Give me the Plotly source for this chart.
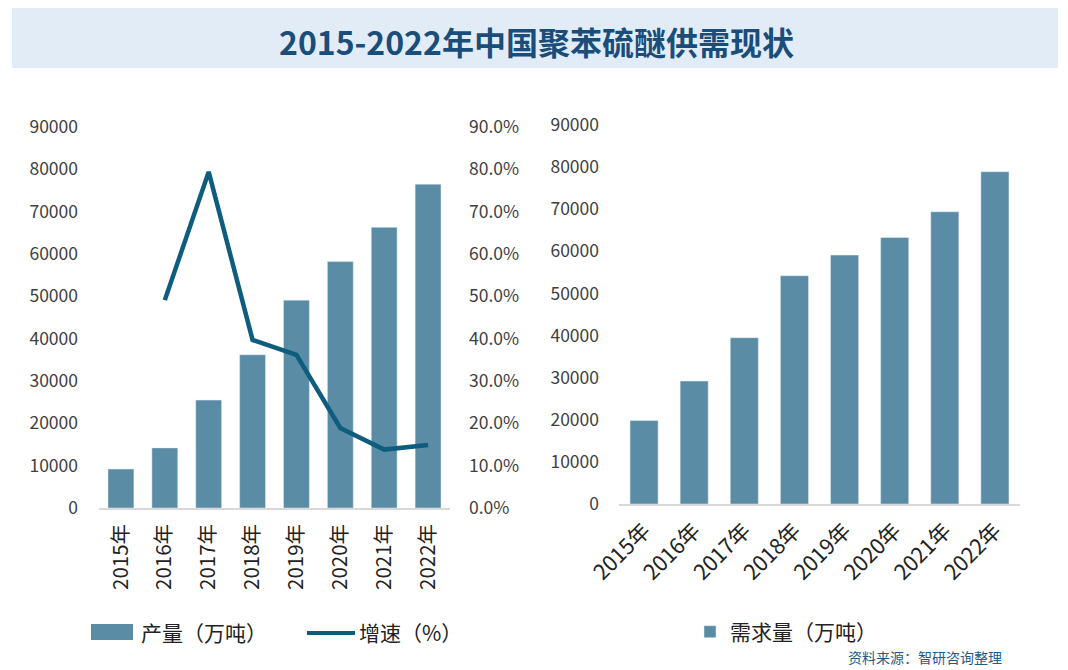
import plotly.graph_objects as go

years = ["2015年", "2016年", "2017年", "2018年", "2019年", "2020年", "2021年", "2022年"]
production = [9200, 14200, 25500, 36200, 49100, 58200, 66300, 76500]
growth = [None, 0.491, 0.794, 0.397, 0.362, 0.189, 0.138, 0.149]
demand = [19800, 29200, 39500, 54200, 59100, 63300, 69400, 78900]
y_ticks = [0, 10000, 20000, 30000, 40000, 50000, 60000, 70000, 80000, 90000]
pct_ticks = [0, 0.1, 0.2, 0.3, 0.4, 0.5, 0.6, 0.7, 0.8, 0.9]

W, H = 1068, 670
BAR = "#5b8ca6"
LINE = "#0e5c7e"
TXT = "#404040"
FONT = "Noto Sans CJK SC"

def px(x):
    return x / W

def py(y):
    return 1 - y / H

fig = go.Figure()
fig.add_trace(go.Bar(x=years, y=production, name="产量（万吨）", marker_color=BAR,
                     width=0.59, xaxis="x", yaxis="y", showlegend=False))
fig.add_trace(go.Scatter(x=years, y=growth, name="增速（%）", mode="lines",
                         line=dict(color=LINE, width=4.5), xaxis="x", yaxis="y2",
                         showlegend=False, connectgaps=False))
fig.add_trace(go.Bar(x=years, y=demand, name="需求量（万吨）", marker_color=BAR,
                     width=0.56, xaxis="x3", yaxis="y3", showlegend=True))

tickfont = dict(family=FONT, size=17.5, color=TXT)

fig.update_layout(
    width=W, height=H,
    margin=dict(l=0, r=0, t=0, b=0, autoexpand=False),
    paper_bgcolor="white", plot_bgcolor="rgba(0,0,0,0)",
    font=dict(family=FONT, color=TXT),
    xaxis=dict(domain=[px(99), px(450)], anchor="y", type="category", automargin=False,
               showgrid=False, showline=True, linecolor="#d9d9d9", linewidth=1.5,
               ticks="", tickangle=-90, tickfont=dict(family=FONT, size=20.5, color="#222222"),
               ticklabelstandoff=6),
    yaxis=dict(domain=[py(508), py(127)], anchor="x", range=[0, 90000], automargin=False,
               tickvals=y_ticks, tickformat="d", showgrid=False, zeroline=False, showline=False,
               ticks="", tickfont=tickfont, ticklabelstandoff=20),
    yaxis2=dict(domain=[py(508), py(127)], anchor="x", overlaying="y", side="right",
                range=[0, 0.9], tickvals=pct_ticks, tickformat=".1%", showgrid=False,
                automargin=False, zeroline=False, showline=False, ticks="", tickfont=tickfont,
                ticklabelstandoff=18),
    xaxis3=dict(domain=[px(619), px(1020)], anchor="y3", type="category", automargin=False,
                showgrid=False, showline=True, linecolor="#d9d9d9", linewidth=1.5,
                ticks="", tickangle=-45, tickfont=dict(family=FONT, size=21.5, color="#222222"),
                ticklabelstandoff=4),
    yaxis3=dict(domain=[py(504), py(125)], anchor="x3", range=[0, 90000], automargin=False,
                tickvals=y_ticks, tickformat="d", showgrid=False, zeroline=False, showline=False,
                ticks="", tickfont=tickfont, ticklabelstandoff=19),
    legend=dict(x=px(690), y=py(632), xanchor="left", yanchor="middle",
                orientation="h", bgcolor="rgba(0,0,0,0)",
                font=dict(family=FONT, size=21, color="#222222")),
    shapes=[
        dict(type="rect", xref="paper", yref="paper", x0=px(12), x1=px(1058),
             y0=py(68), y1=py(8), fillcolor="#e1ecf7", line=dict(width=0), layer="below"),
        # left legend swatches
        dict(type="rect", xref="paper", yref="paper", x0=px(91), x1=px(133),
             y0=py(640), y1=py(624), fillcolor=BAR, line=dict(width=0)),
        dict(type="line", xref="paper", yref="paper", x0=px(307), x1=px(355),
             y0=py(633), y1=py(633), line=dict(color=LINE, width=4)),
    ],
    annotations=[
        dict(text="<b>2015-2022年中国聚苯硫醚供需现状</b>", xref="paper", yref="paper",
             x=px(536), y=py(41), xanchor="center", yanchor="middle", showarrow=False,
             font=dict(family="Noto Sans CJK SC", size=32, color="#1b4d7a")),
        dict(text="产量（万吨）", xref="paper", yref="paper", x=px(139), y=py(632),
             xanchor="left", yanchor="middle", showarrow=False,
             font=dict(family=FONT, size=21, color="#222222")),
        dict(text="增速（%）", xref="paper", yref="paper", x=px(357), y=py(632),
             xanchor="left", yanchor="middle", showarrow=False,
             font=dict(family=FONT, size=21, color="#222222")),
        dict(text="资料来源：智研咨询整理", xref="paper", yref="paper", x=px(846), y=py(669),
             xanchor="left", yanchor="bottom", showarrow=False,
             font=dict(family=FONT, size=14, color="#1f5b8a")),
    ],
)

fig.write_html("out.html")
